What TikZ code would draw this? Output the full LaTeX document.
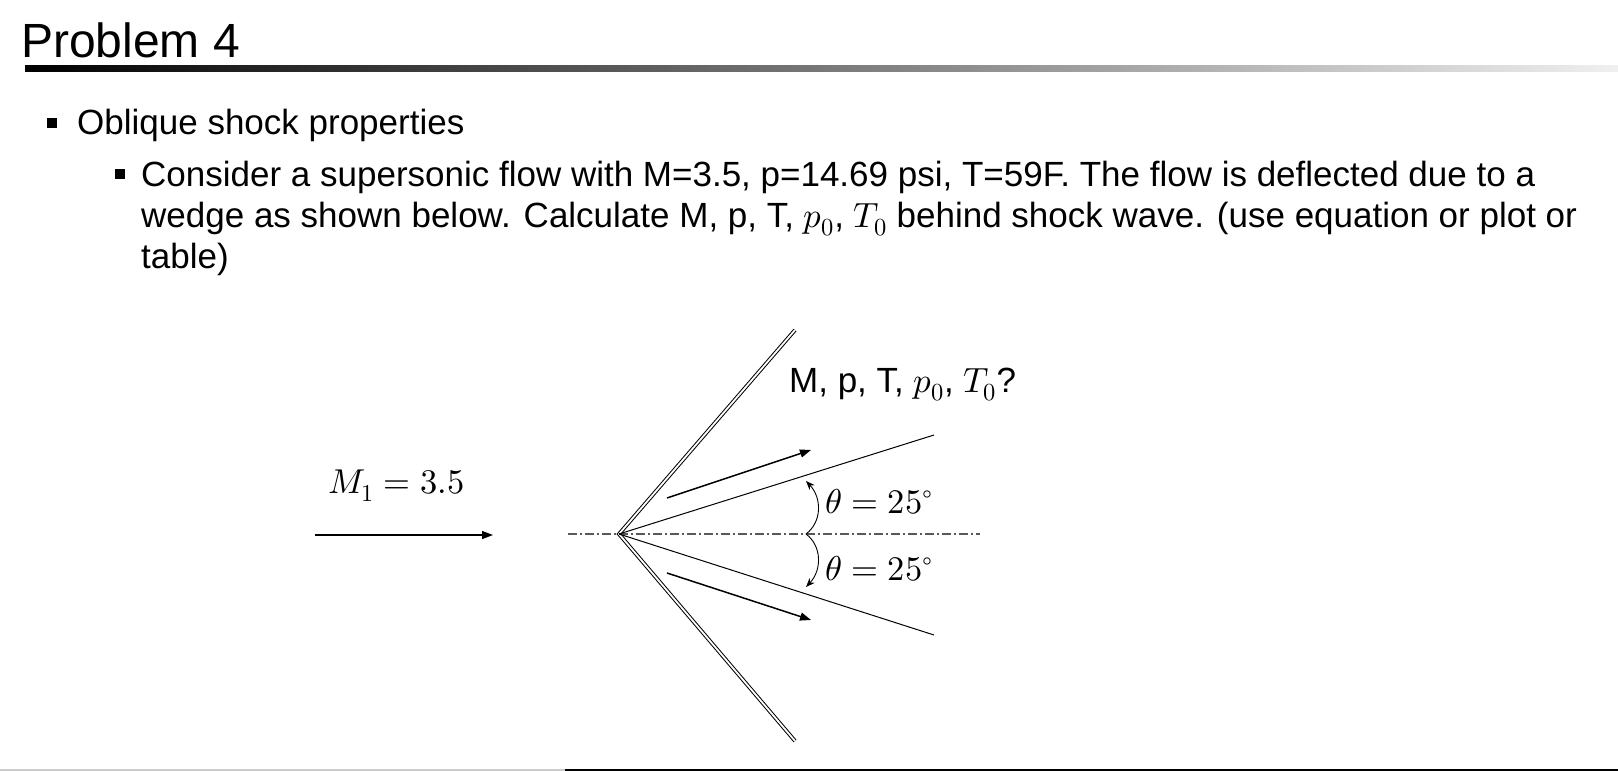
\documentclass[tikz,border=0pt]{standalone}
\usepackage{fontspec}
\usepackage{unicode-math}
\setmainfont{Liberation Sans}
\setmathfont{Latin Modern Math}
\usetikzlibrary{arrows.meta}
\begin{document}
\begin{tikzpicture}[x=1pt,y=-1pt,
  txt/.style={anchor=base west,inner sep=0pt,font=\fontsize{35}{42}\selectfont},
  mth/.style={anchor=base west,inner sep=0pt,font=\fontsize{34.5}{40}\selectfont},
  wedge/.style={double,double distance=1.8pt,line width=1pt},
  thin/.style={line width=1pt},
  flow/.style={line width=1.5pt,-{Triangle[length=11pt,width=8pt]}},
  bul/.style={fill=black,minimum size=10pt,inner sep=0pt}]
\useasboundingbox (0,0) rectangle (1618,771);
\node[anchor=base west,inner sep=0pt,font=\fontsize{48}{56}\selectfont] (title) at (21,57) {Problem 4};
\shade[left color=black,right color=gray!12] (25,65) rectangle (1618,71);
\node[bul] (b1) at (52,123) {};
\node[txt] (t1) at (77,134) {Oblique shock properties};
\node[bul] (b2) at (120,174) {};
\node[txt] (t2) at (141,186) {Consider a supersonic flow with M=3.5, p=14.69 psi, T=59F. The flow is deflected due to a};
\node[txt] (t3) at (141,227) {wedge as shown below. Calculate M, p, T, $p_0$, $T_0$ behind shock wave. (use equation or plot or};
\node[txt] (t4) at (141,268) {table)};
% diagram
\coordinate (v) at (619,534);
\coordinate (wu) at (795,330);
\coordinate (wl) at (795,741);
\coordinate (cl) at (568,534);
\coordinate (cr) at (980,534);
\coordinate (ru) at (934,435);
\coordinate (rl) at (934,635);
\draw[wedge] (wu) -- (v) -- (wl);
\draw[gray!70!black,line width=1.1pt,dash pattern=on 9pt off 3pt on 2pt off 3pt] (cl) -- (cr);
\draw[thin] (v) -- (ru);
\draw[thin] (v) -- (rl);
\coordinate (a1s) at (667,498); \coordinate (a1e) at (811,450);
\coordinate (a2s) at (667,573); \coordinate (a2e) at (811,620);
\draw[flow] (a1s) -- (a1e);
\draw[flow] (a2s) -- (a2e);
\coordinate (m1s) at (315,535); \coordinate (m1e) at (493,535);
\draw[line width=1.3pt,-{Triangle[length=11pt,width=8pt]}] (m1s) -- (m1e);
\coordinate (ac) at (806,534);
\coordinate (au) at (806,481);
\coordinate (al) at (806,587);
\draw[line width=0.9pt,-{Stealth[length=9pt,width=7pt]}] (ac) .. controls (822,522) and (822,498) .. (au);
\draw[line width=0.9pt,-{Stealth[length=9pt,width=7pt]}] (ac) .. controls (822,546) and (822,570) .. (al);
\node[mth] (th1) at (825,513) {$\theta = 25^{\circ}$};
\node[mth] (th2) at (825,580) {$\theta = 25^{\circ}$};
\node[txt] (q) at (789,392) {M, p, T, $p_0$, $T_0$?};
\node[mth] (m1) at (328,493) {$M_1 = 3.5$};
\draw[gray!40,line width=1.5pt] (0,770) -- (565,770);
\draw[black,line width=1.5pt] (565,770) -- (1618,770);
\end{tikzpicture}
\end{document}
